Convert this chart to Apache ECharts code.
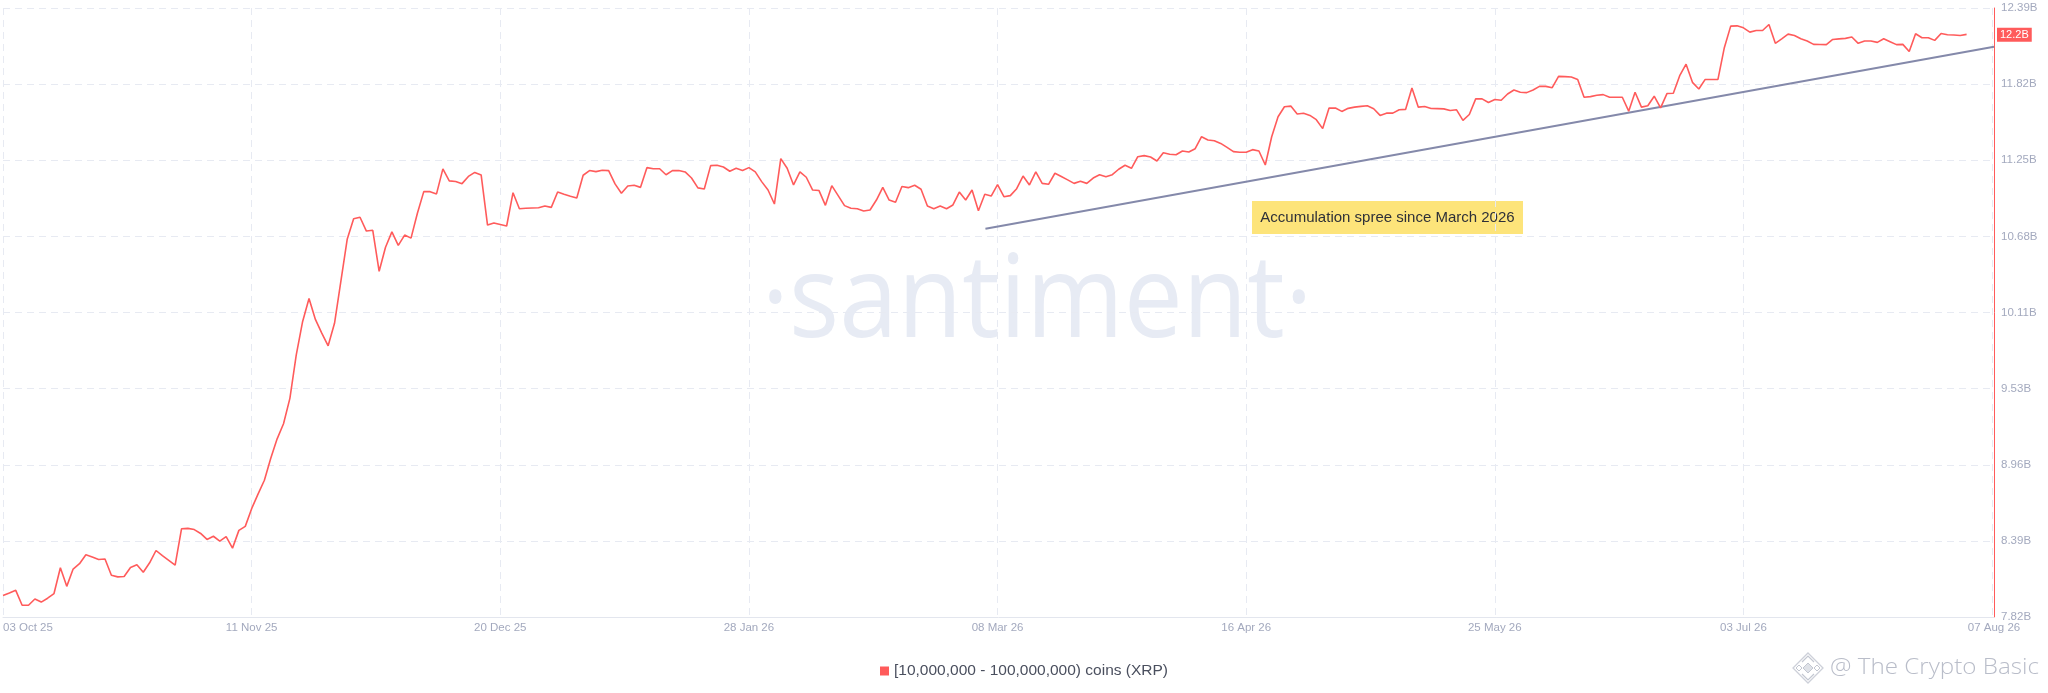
<!DOCTYPE html>
<html>
<head>
<meta charset="utf-8">
<script src="https://cdn.jsdelivr.net/npm/echarts@6/dist/echarts.min.js"></script>
<style>
html,body{margin:0;padding:0;background:#ffffff;}
#chart{width:2048px;height:693px;}
</style>
</head>
<body>
<div id="chart"></div>
<script>
// ---------- data ----------
const startDate = '03 Oct 25';            // day 0 of the series (daily values)
const seriesName = '[10,000,000 - 100,000,000) coins (XRP)';
const holdings = [
  7.982, 8.000, 8.020, 7.908, 7.908, 7.955, 7.932, 7.961, 7.996, 8.190,
  8.050, 8.180, 8.220, 8.287, 8.270, 8.252, 8.255, 8.133, 8.121, 8.124,
  8.192, 8.212, 8.156, 8.227, 8.319, 8.280, 8.245, 8.210, 8.482, 8.485,
  8.476, 8.447, 8.402, 8.426, 8.390, 8.423, 8.337, 8.470, 8.500, 8.633,
  8.742, 8.846, 9.012, 9.157, 9.270, 9.461, 9.787, 10.038, 10.210, 10.053,
  9.950, 9.855, 10.024, 10.340, 10.657, 10.808, 10.820, 10.716, 10.722, 10.414,
  10.595, 10.710, 10.609, 10.686, 10.663, 10.850, 11.012, 11.012, 10.995, 11.183,
  11.093, 11.088, 11.072, 11.126, 11.156, 11.137, 10.761, 10.777, 10.766, 10.754,
  11.004, 10.884, 10.887, 10.889, 10.891, 10.904, 10.894, 11.009, 10.992, 10.977,
  10.964, 11.135, 11.170, 11.162, 11.172, 11.170, 11.070, 11.000, 11.054, 11.060,
  11.044, 11.192, 11.184, 11.184, 11.139, 11.170, 11.170, 11.160, 11.114, 11.040,
  11.032, 11.207, 11.210, 11.197, 11.165, 11.187, 11.170, 11.192, 11.160, 11.087,
  11.024, 10.919, 11.260, 11.187, 11.062, 11.160, 11.120, 11.024, 11.020, 10.909,
  11.057, 10.982, 10.907, 10.887, 10.884, 10.867, 10.874, 10.949, 11.044, 10.949,
  10.932, 11.050, 11.042, 11.060, 11.030, 10.904, 10.884, 10.904, 10.884, 10.912,
  11.009, 10.949, 11.024, 10.869, 10.992, 10.979, 11.064, 10.974, 10.982, 11.034,
  11.129, 11.062, 11.160, 11.074, 11.067, 11.150, 11.125, 11.100, 11.074, 11.090,
  11.074, 11.114, 11.139, 11.124, 11.139, 11.180, 11.210, 11.187, 11.274, 11.282,
  11.272, 11.242, 11.304, 11.292, 11.289, 11.317, 11.310, 11.334, 11.424, 11.400,
  11.394, 11.374, 11.344, 11.312, 11.307, 11.307, 11.327, 11.317, 11.212, 11.424,
  11.574, 11.649, 11.654, 11.594, 11.600, 11.584, 11.552, 11.485, 11.639, 11.639,
  11.614, 11.637, 11.646, 11.652, 11.656, 11.634, 11.584, 11.601, 11.601, 11.626,
  11.629, 11.790, 11.646, 11.651, 11.636, 11.635, 11.633, 11.621, 11.626, 11.547,
  11.591, 11.708, 11.708, 11.681, 11.703, 11.698, 11.745, 11.775, 11.758, 11.755,
  11.775, 11.802, 11.802, 11.792, 11.877, 11.875, 11.872, 11.854, 11.720, 11.725,
  11.735, 11.740, 11.720, 11.720, 11.720, 11.616, 11.758, 11.646, 11.656, 11.728,
  11.641, 11.748, 11.750, 11.882, 11.968, 11.832, 11.782, 11.854, 11.854, 11.854,
  12.092, 12.254, 12.256, 12.241, 12.209, 12.221, 12.221, 12.266, 12.125, 12.159,
  12.194, 12.184, 12.159, 12.142, 12.117, 12.116, 12.115, 12.154, 12.158, 12.162,
  12.172, 12.125, 12.142, 12.142, 12.132, 12.159, 12.137, 12.115, 12.117, 12.063,
  12.197, 12.167, 12.167, 12.147, 12.199, 12.189, 12.187, 12.184, 12.192
];
// trend line drawn on the chart (day index, value in billions)
const trendDays = [154.1, 312.3];
const trendValues = [10.734, 12.10];

// axis ticks
const xTickLabels = ['03 Oct 25', '11 Nov 25', '20 Dec 25', '28 Jan 26', '08 Mar 26', '16 Apr 26', '25 May 26', '03 Jul 26'];
const xTickStepDays = 39;
const xAxisEndDay = 312.3;
const lastDateLabel = '07 Aug 26';
const yTickLabels = ['7.82B', '8.39B', '8.96B', '9.53B', '10.11B', '10.68B', '11.25B', '11.82B', '12.39B'];
const yMin = 7.82, yMax = 12.39;

const annotationText = 'Accumulation spree since March 2026';
const watermarkText = '\u00B7santiment\u00B7';
const brandText = '@ The Crypto Basic';

// ---------- chart ----------
const RED = '#ff5b5b';
const LABEL_GREY = '#a3a9be';
const GRID_GREY = '#e7eaf2';
const FONT = '"Liberation Sans", Arial, sans-serif';

const chart = echarts.init(document.getElementById('chart'), null, {renderer: 'canvas'});
const lastVal = holdings[holdings.length - 1];

const option = {
  animation: false,
  backgroundColor: '#ffffff',
  grid: {left: 0, right: 54, top: 8, bottom: 76, containLabel: false},
  legend: {
    data: [seriesName],
    left: 'center',
    top: 658,
    icon: 'rect',
    itemWidth: 9,
    itemHeight: 9,
    textStyle: {fontSize: 15.5, color: '#4a4f5e', fontFamily: FONT},
    selectedMode: false
  },
  xAxis: {
    type: 'value',
    min: 0,
    max: xAxisEndDay,
    interval: xTickStepDays,
    axisLine: {show: true, lineStyle: {color: '#e3e6ee', width: 1}},
    axisTick: {show: false},
    splitLine: {show: true, lineStyle: {color: GRID_GREY, type: [7, 5], width: 1}},
    axisLabel: {
      color: LABEL_GREY,
      fontSize: 11.5,
      fontFamily: FONT,
      margin: 5,
      alignMinLabel: 'left',
      showMaxLabel: true,
      formatter: function (v) {
        if (Math.abs(v - xAxisEndDay) < 0.01) return lastDateLabel;
        const i = Math.round(v / xTickStepDays);
        return xTickLabels[i] || '';
      }
    }
  },
  yAxis: [
    { // data axis (values in billions)
      type: 'value',
      min: yMin,
      max: yMax,
      show: false,
      position: 'right'
    },
    { // tick / label axis: 8 equal steps between yMin and yMax
      type: 'value',
      min: 0,
      max: yTickLabels.length - 1,
      interval: 1,
      position: 'right',
      axisLine: {show: true, onZero: false, lineStyle: {color: RED, width: 1}},
      axisTick: {show: false},
      splitLine: {show: true, lineStyle: {color: GRID_GREY, type: [7, 5], width: 1}},
      axisLabel: {
        color: LABEL_GREY,
        fontSize: 11.5,
        fontFamily: FONT,
        margin: 7,
        formatter: function (v) { return yTickLabels[Math.round(v)]; }
      }
    }
  ],
  series: [
    {
      name: seriesName,
      type: 'line',
      xAxisIndex: 0,
      yAxisIndex: 0,
      data: holdings.map((v, i) => [i, v]),
      showSymbol: false,
      symbol: 'none',
      lineStyle: {color: RED, width: 1.6},
      itemStyle: {color: RED},
      z: 5,
      markLine: {
        silent: true,
        symbol: 'none',
        lineStyle: {color: 'rgba(0,0,0,0)', width: 0},
        data: [{yAxis: lastVal}],
        label: {
          show: true,
          position: 'end',
          distance: 3,
          formatter: lastVal.toFixed(1) + 'B',
          color: '#ffffff',
          backgroundColor: RED,
          fontSize: 11,
          fontFamily: FONT,
          padding: [2, 3, 1, 3]
        }
      }
    },
    {
      name: 'trend',
      type: 'line',
      xAxisIndex: 0,
      yAxisIndex: 0,
      data: trendDays.map((d, i) => [d, trendValues[i]]),
      showSymbol: false,
      symbol: 'none',
      lineStyle: {color: '#8489aa', width: 2},
      z: 4,
      silent: true
    }
  ],
  graphic: [
    { // santiment watermark
      type: 'group',
      x: 1037,
      y: 304,
      scaleX: 0.915,
      z: -1,
      silent: true,
      children: [{
        type: 'text',
        style: {
          text: watermarkText,
          font: '400 115px "Open Sans", sans-serif',
          fill: '#e7ebf4',
          align: 'center',
          verticalAlign: 'middle'
        }
      }]
    },
    { // annotation box
      type: 'group',
      x: 1252,
      y: 201,
      z: 10,
      silent: true,
      children: [
        {type: 'rect', shape: {x: 0, y: 0, width: 271, height: 33}, style: {fill: '#fde47a'}},
        {type: 'text', style: {text: annotationText, x: 135.5, y: 16.5, align: 'center', verticalAlign: 'middle',
          font: '15px "Liberation Sans", Arial, sans-serif', fill: '#2e3038'}}
      ]
    },
    { // brand logo bottom-right
      type: 'group',
      x: 1793,
      y: 668,
      z: 10,
      silent: true,
      children: [
        {type: 'polygon', shape: {points: [[15, -15], [30, 0], [15, 15], [0, 0]]}, style: {fill: 'none', stroke: '#cdd0d9', lineWidth: 1.3}},
        {type: 'polygon', shape: {points: [[15, -5], [20, 0], [15, 5], [10, 0]]}, style: {fill: '#dfe2e8', stroke: '#c3c7d1', lineWidth: 1}},
        {type: 'polygon', shape: {points: [[6, -3], [9, 0], [6, 3], [3, 0]]}, style: {fill: 'none', stroke: '#c3c7d1', lineWidth: 1}},
        {type: 'polygon', shape: {points: [[24, -3], [27, 0], [24, 3], [21, 0]]}, style: {fill: 'none', stroke: '#c3c7d1', lineWidth: 1}},
        {type: 'polyline', shape: {points: [[9, -6], [15, -12], [21, -6]]}, style: {stroke: '#c3c7d1', lineWidth: 1.2}},
        {type: 'polyline', shape: {points: [[9, 6], [15, 12], [21, 6]]}, style: {stroke: '#c3c7d1', lineWidth: 1.2}}
      ]
    },
    { // brand text bottom-right
      type: 'group',
      x: 1830,
      y: 668,
      scaleX: 1.1,
      z: 10,
      silent: true,
      children: [
        {type: 'text', style: {text: brandText, x: 0, y: 0, align: 'left', verticalAlign: 'middle',
          font: '300 22px "Open Sans", sans-serif', fill: '#b9bdc9'}}
      ]
    }
  ]
};
chart.setOption(option);
</script>
</body>
</html>
